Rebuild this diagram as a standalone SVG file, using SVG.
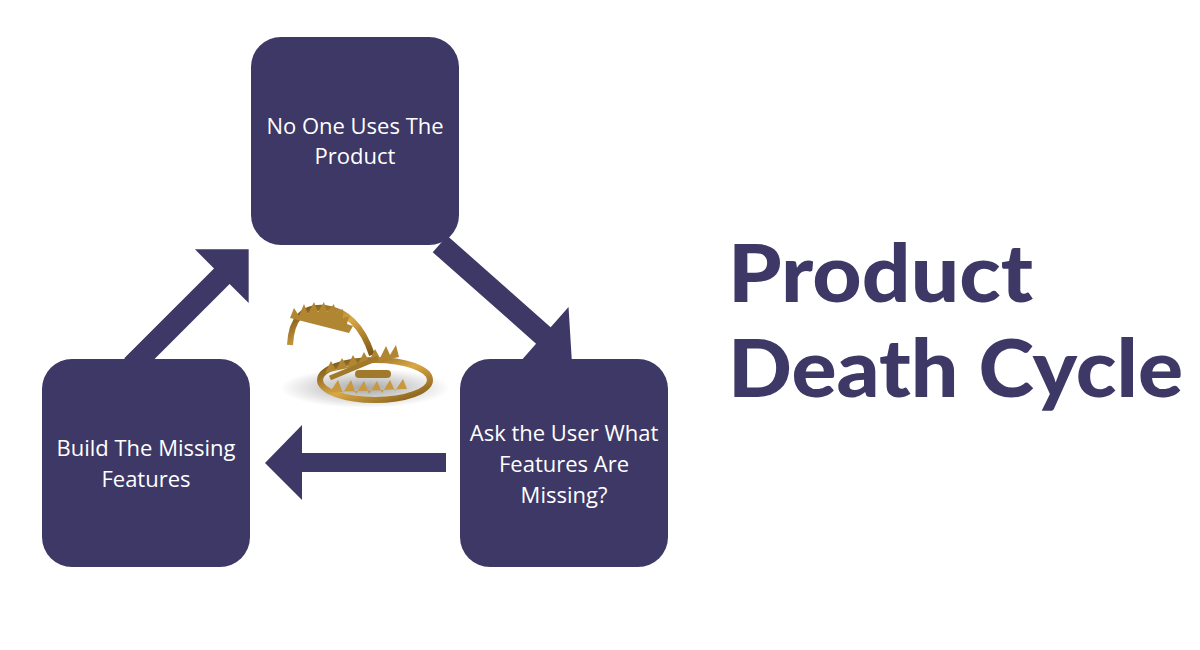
<svg xmlns="http://www.w3.org/2000/svg" width="1200" height="650" viewBox="0 0 1200 650">
<style>
.box{fill:#3d3866}
.arr{fill:#3d3866}
.lbl{font-family:"Open Sans",sans-serif;font-size:22px;fill:#ffffff;text-anchor:middle}
.title{font-family:Lato,sans-serif;font-weight:900;font-size:80px;fill:#3d3866}
.gold{fill:none;stroke:url(#g);stroke-width:6}
</style>
<defs>
<linearGradient id="g" x1="0" y1="0" x2="1" y2="1"><stop offset="0" stop-color="#6b4a12"/><stop offset="0.5" stop-color="#d9a845"/><stop offset="1" stop-color="#7a5514"/></linearGradient>
<radialGradient id="sh"><stop offset="0" stop-color="#000" stop-opacity="0.35"/><stop offset="1" stop-color="#000" stop-opacity="0"/></radialGradient>
</defs>
<rect width="1200" height="650" fill="#fff"/>
<g id="connectors">
<polygon class="arr" transform="translate(132,366) rotate(-45)" points="0,-11 127,-11 127,-38 165,0 127,38 127,11 0,11"/>
<polygon class="arr" transform="translate(440,244) rotate(41.5)" points="0,-11 138,-11 138,-38 176,0 138,38 138,11 0,11"/>
<polygon class="arr" points="446,453 302,453 302,425 265,463 302,500 302,472 446,472"/>
</g>
<g id="node-top"><rect class="box" x="251" y="37" width="208" height="208" rx="30"/>
<text class="lbl" x="355" y="134">No One Uses The</text><text class="lbl" x="355" y="164">Product</text></g>
<g id="node-left"><rect class="box" x="42" y="359" width="208" height="208" rx="30"/>
<text class="lbl" x="146" y="456">Build The Missing</text><text class="lbl" x="146" y="487">Features</text></g>
<g id="node-right"><rect class="box" x="460" y="359" width="208" height="208" rx="30"/>
<text class="lbl" x="564" y="441">Ask the User What</text><text class="lbl" x="564" y="472">Features Are</text><text class="lbl" x="564" y="503">Missing?</text></g>
<g id="trap">
<ellipse cx="365" cy="388" rx="85" ry="20" fill="url(#sh)"/>
<path class="gold" d="M290,345 Q292,305 325,308 Q358,312 372,355"/>
<path d="M290,318 l4,-10 l5,8 l5,-12 l4,10 l6,-12 l4,10 l6,-10 l3,10 l7,-8 l2,10 l7,-5 l0,9 l6,-2 l-2,8 l6,2 l-4,7" fill="#b08632"/>
<ellipse class="gold" cx="375" cy="380" rx="55" ry="20"/>
<path d="M325,373 l6,-12 l5,9 l6,-12 l5,9 l6,-12 l5,9 l6,-12 l5,9 l6,-12 l5,9 l6,-12 l4,9 l6,-10 l3,12 z" fill="#b08632"/>
<path d="M330,392 l8,-12 l5,13 l8,-13 l5,14 l8,-13 l5,13 l8,-13 l5,12 l8,-13 l5,11 l8,-12 l4,10 z" fill="#c9983d"/>
<line x1="330" y1="378" x2="378" y2="358" stroke="#a07a2a" stroke-width="5"/>
<rect x="355" y="370" width="36" height="8" rx="4" fill="#a07a2a"/>
</g>
<g id="title">
<text class="title" x="728" y="302" textLength="305" lengthAdjust="spacingAndGlyphs">Product</text>
<text class="title" x="728" y="397" textLength="455" lengthAdjust="spacingAndGlyphs">Death Cycle</text>
</g>
</svg>
